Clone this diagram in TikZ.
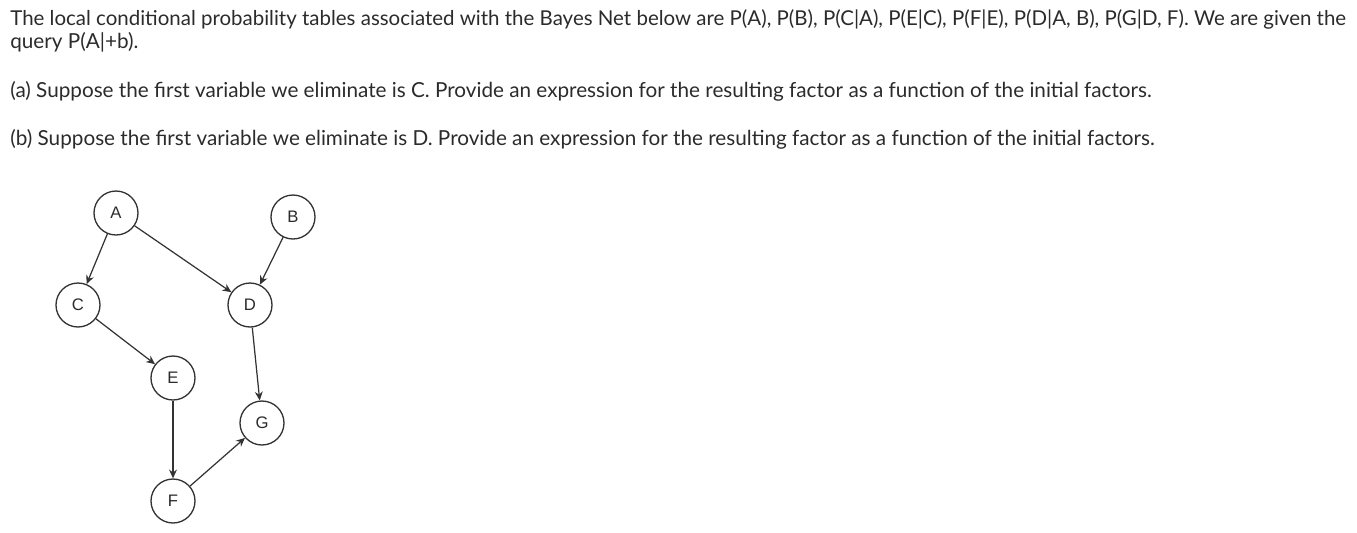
\documentclass[tikz,border=0pt]{standalone}
\usepackage{fontspec}
\setmainfont{Lato}
\newfontfamily\nodefont{Liberation Sans}
\usetikzlibrary{arrows.meta}
\definecolor{txtgray}{HTML}{2B2B2B}
\definecolor{linegray}{HTML}{333333}
\tikzset{
    var/.style={circle,draw=linegray,line width=0.75pt,minimum size=0.88cm,inner sep=0pt,
        font=\nodefont\fontsize{9.5}{10}\selectfont,text=txtgray},
    edge/.style={-{Stealth[length=5pt,width=4.5pt]},draw=linegray,line width=0.7pt},
    question/.style={anchor=base west,inner sep=0pt,text=txtgray,
        font=\fontsize{11.78}{14}\selectfont}
}
\begin{document}
\begin{tikzpicture}[x=0.02cm,y=-0.02cm]
                \useasboundingbox (0,0) rectangle (1357,532);
                % question text
                \node[question,font=\fontsize{11.65}{14}\selectfont] (line1) at (10,25)
                    {The local conditional probability tables associated with the Bayes Net below are P(A), P(B), P(C|A), P(E|C), P(F|E), P(D|A, B), P(G|D, F). We are given the};
                \node[question] (line2) at (10,48) {query P(A|+b).};
                \node[question] (parta) at (10,97)
                    {(a) Suppose the first variable we eliminate is C. Provide an expression for the resulting factor as a function of the initial factors.};
                \node[question] (partb) at (10,145)
                    {(b) Suppose the first variable we eliminate is D. Provide an expression for the resulting factor as a function of the initial factors.};
                % the net
                \node[var] (A) at (116,213) {A};
                \node[var] (B) at (293,217) {B};
                \node[var] (C) at (78,305) {C};
                \node[var] (D) at (250,305) {D};
                \node[var] (E) at (173,378) {E};
                \node[var] (G) at (262,423) {G};
                \node[var] (F) at (173,501) {F};
                \draw[edge] (A) -- (C);
                \draw[edge] (A) -- (D);
                \draw[edge] (B) -- (D);
                \draw[edge] (C) -- (E);
                \draw[edge] (D) -- (G);
                \draw[edge] (E) -- (F);
                \draw[edge] (F) -- (G);
            \end{tikzpicture}
\end{document}
